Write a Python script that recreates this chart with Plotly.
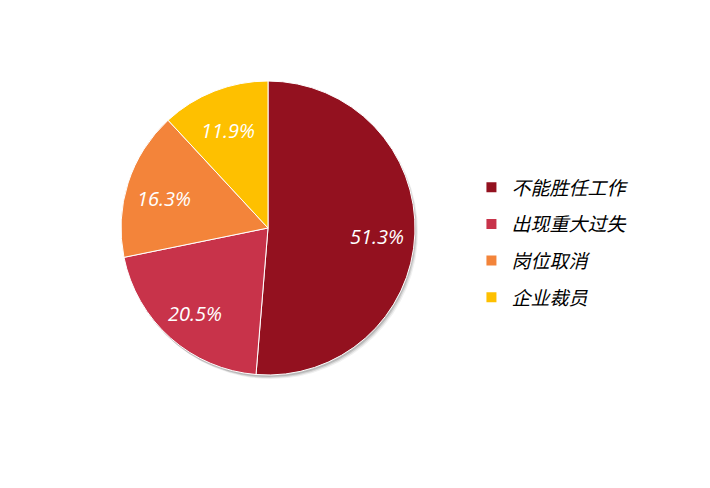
import math
import plotly.graph_objects as go

categories = ["不能胜任工作", "出现重大过失", "岗位取消", "企业裁员"]
values = [51.3, 20.5, 16.3, 11.9]
colors = ["#93111F", "#C8334A", "#F3843A", "#FEC000"]

W, H = 710, 488
cx, cy, r = 268, 228, 147

def dom(dx=0, dy=0):
    x0 = (cx + dx - r) / W
    x1 = (cx + dx + r) / W
    yb = H - (cy + dy)
    return dict(x=[x0, x1], y=[(yb - r) / H, (yb + r) / H])

fig = go.Figure()

# soft shadow
for dx, dy, a in [(3, 4, 0.06), (2, 3, 0.10), (1, 2, 0.14)]:
    fig.add_trace(go.Pie(values=[1], labels=["s"], domain=dom(dx, dy), sort=False,
                         marker=dict(colors=[f"rgba(0,0,0,{a})"], line=dict(width=0)),
                         textinfo="none", hoverinfo="skip", showlegend=False))

fig.add_trace(go.Pie(
    labels=categories, values=values, sort=False, direction="clockwise", rotation=0,
    domain=dom(),
    marker=dict(colors=colors, line=dict(color="white", width=1)),
    textinfo="none",
    showlegend=False, hoverinfo="label+value",
))

# data labels placed along each slice's mid-angle
total = sum(values)
cum = 0
for v in values:
    mid = (cum + v / 2) / total * 2 * math.pi
    cum += v
    lx = cx + 0.745 * r * math.sin(mid)
    ly = cy - 0.745 * r * math.cos(mid) + 4
    fig.add_annotation(x=lx / W, y=1 - ly / H, xref="paper", yref="paper",
                       text=f"{v:.1f}%", showarrow=False, xanchor="center", yanchor="middle",
                       font=dict(color="white", size=20, family="Open Sans", style="italic"))

for c, col in zip(categories, colors):
    fig.add_trace(go.Scatter(x=[None], y=[None], mode="markers", name=c,
                             marker=dict(symbol="square", size=10, color=col),
                             legendgroup=c, showlegend=True))

fig.update_layout(
    width=W, height=H, margin=dict(l=0, r=0, t=0, b=0),
    paper_bgcolor="white", plot_bgcolor="white",
    xaxis=dict(visible=False), yaxis=dict(visible=False),
    legend=dict(x=0.664, y=0.655, xanchor="left", yanchor="top",
                font=dict(size=19, color="#000", family="Noto Sans CJK SC", style="italic"),
                tracegroupgap=9, itemwidth=30, traceorder="grouped"),
)
fig.write_html("out.html")
